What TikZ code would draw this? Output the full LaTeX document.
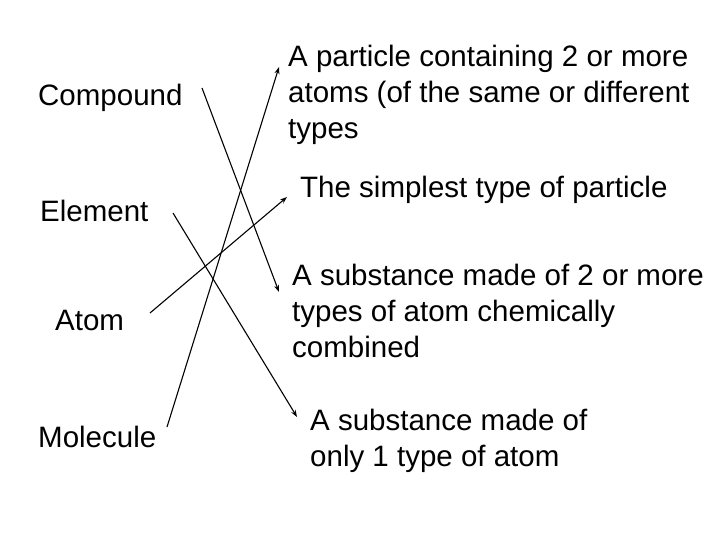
\documentclass[tikz,border=0pt]{standalone}
\usepackage{fontspec}
\setmainfont{Liberation Sans}
\usetikzlibrary{arrows.meta}
\begin{document}
\begin{tikzpicture}[x=1pt,y=-1pt,
  lbl/.style={anchor=west,font=\fontsize{29.5}{36}\selectfont,align=left,inner sep=0pt},
  con/.style={line width=1.1pt,-{Stealth[length=7pt,width=5pt]}}]
\useasboundingbox (0,0) rectangle (720,540);
\node[lbl] (t1) at (38,98) {Compound};
\node[lbl] (t2) at (40,211) {Element};
\node[lbl] (t3) at (55,320) {Atom};
\node[lbl] (t4) at (38,437) {Molecule};
\node[lbl] (d1) at (288,95) {A particle containing 2 or more\\atoms (of the same or different\\types};
\node[lbl] (d2) at (300,190) {The simplest type of particle};
\node[lbl] (d3) at (292,311) {A substance made of 2 or more\\types of atom chemically\\combined};
\node[lbl] (d4) at (310,441) {A substance made of\\only 1 type of atom};
\coordinate (s1) at (202,88); \coordinate (e1) at (279,292);
\coordinate (s2) at (173,213); \coordinate (e2) at (297,417);
\coordinate (s3) at (150,313); \coordinate (e3) at (287,197);
\coordinate (s4) at (167,427); \coordinate (e4) at (279,67);
\draw[con] (s1) -- (e1);
\draw[con] (s2) -- (e2);
\draw[con] (s3) -- (e3);
\draw[con] (s4) -- (e4);
\end{tikzpicture}
\end{document}
